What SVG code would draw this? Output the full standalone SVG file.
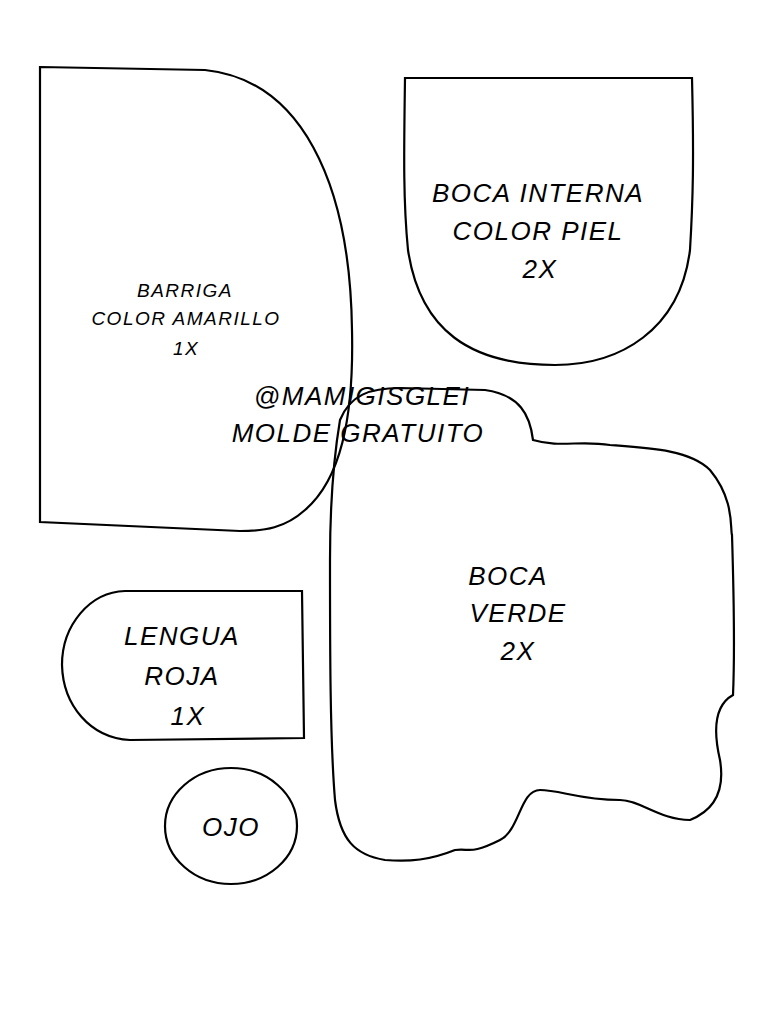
<svg xmlns="http://www.w3.org/2000/svg" width="768" height="1024" viewBox="0 0 768 1024">
<style>
.s{fill:none;stroke:#000;stroke-width:2.2}
text{font-family:"Liberation Sans",sans-serif;font-style:italic;fill:#000;text-anchor:middle;letter-spacing:1.5px}
.b{font-size:26px}.m{font-size:19px}
</style>
<rect width="768" height="1024" fill="#fff"/>
<g id="barriga">
<path class="s" d="M40,67 L205,70 C300,80 350,180 352,330 C354,420 340,480 305,510 C285,528 265,531 240,531 L40,522 Z"/>
<text class="m" x="185" y="297">BARRIGA</text>
<text class="m" x="186" y="325">COLOR AMARILLO</text>
<text class="m" x="186" y="355">1X</text>
</g>
<g id="boca-interna">
<path class="s" d="M405,78 L692,78 C694,160 693,200 690,250 C680,330 620,365 555,365 C470,365 420,330 408,250 C403,200 404,150 405,78 Z"/>
<text class="b" x="538" y="202">BOCA INTERNA</text>
<text class="b" x="538" y="240">COLOR PIEL</text>
<text class="b" x="540" y="278">2X</text>
</g>
<g id="boca-verde">
<path class="s" d="M340,420 C350,395 370,388 400,388 L485,390 C520,395 530,415 533,440 C560,448 580,440 610,445 C650,448 690,450 710,470 C735,500 730,530 732,535 C734,600 735,650 733,695 C715,705 713,730 720,760 C725,790 715,810 690,820 C660,820 640,800 620,800 C580,800 560,790 540,790 C520,790 520,830 500,840 C470,855 470,848 455,850 C430,860 410,862 385,860 C355,855 340,840 335,800 C330,740 330,650 330,560 C330,500 335,450 340,420 Z"/>
<text class="b" x="508" y="585">BOCA</text>
<text class="b" x="518" y="622">VERDE</text>
<text class="b" x="518" y="660">2X</text>
</g>
<g id="lengua">
<path class="s" d="M125,591 L302,591 L304,738 L130,740 C90,738 63,705 62,665 C62,625 90,592 125,591 Z"/>
<text class="b" x="182" y="645">LENGUA</text>
<text class="b" x="182" y="685">ROJA</text>
<text class="b" x="188" y="725">1X</text>
</g>
<g id="ojo">
<ellipse class="s" cx="231" cy="826" rx="66" ry="58"/>
<text class="b" x="231" y="836">OJO</text>
</g>
<text class="b" x="362" y="405">@MAMIGISGLEI</text>
<text class="b" x="358" y="442">MOLDE GRATUITO</text>
</svg>
